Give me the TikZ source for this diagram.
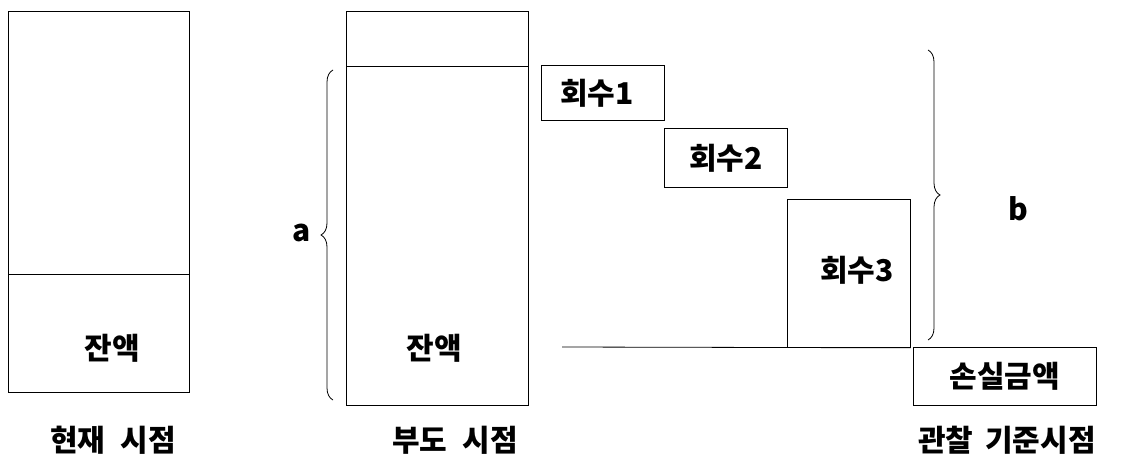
\documentclass[tikz,border=0pt]{standalone}
\usepackage{fontspec}
\setmainfont{Noto Sans CJK KR}
\usetikzlibrary{decorations.pathreplacing}
\begin{document}
\begin{tikzpicture}[x=1pt,y=-1pt,line width=0.8pt]
            \tikzstyle{label}=[font=\fontsize{30}{34}\selectfont\bfseries,inner sep=0pt]
            \tikzstyle{box}=[draw,rectangle,inner sep=0pt,anchor=north west,font=\fontsize{30}{34}\selectfont\bfseries]
            \tikzstyle{brace}=[decorate,decoration={brace,amplitude=12pt}]
            \useasboundingbox (0,0) rectangle (1121,474);

            % accounts at present and at default
            \node[box,minimum width=181pt,minimum height=381pt] (NOW) at (8,11) {};
            \draw (8,274) coordinate (NOW-cut) -- (189,274);
            \node[label] (NOW-bal) at (112,348) {잔액};
            \node[box,minimum width=182pt,minimum height=394pt] (DEF) at (346,11) {};
            \draw (346,66) coordinate (DEF-cut) -- (528,66);
            \node[label] (DEF-bal) at (434,348) {잔액};

            % recoveries
            \node[box,minimum width=123pt,minimum height=55pt] (REC-1) at (541,65) {};
            \node[label] at ([xshift=-6pt]REC-1.center) {회수1};
            \node[box,minimum width=123pt,minimum height=59pt] (REC-2) at (664,128) {};
            \node[label] at (REC-2.center) {회수2};
            \node[box,minimum width=123pt,minimum height=148pt] (REC-3) at (787,199) {};
            \node[label] at (857,270) {회수3};
            \coordinate (BASE) at (562,347);
            \draw (BASE) -- (REC-3.south east);
            \node[box,minimum width=183pt,minimum height=58pt] (LOSS) at (913,347) {};
            \node[label] at (LOSS.center) {손실금액};

            % braces
            \draw[brace] (333,400) -- (333,70) node[midway,left=22pt,label,yshift=2pt] (A) {a};
            \draw[brace] (928,50) -- (928,340) node[midway,right=80pt,label,yshift=-14pt] (B) {b};

            % time points
            \node[label] (T-now) at (113,440) {현재\hspace{0.5em}시점};
            \node[label] (T-def) at (455,440) {부도\hspace{0.5em}시점};
            \node[label] (T-obs) at (1007,440) {관찰\hspace{0.4em}기준시점};
\end{tikzpicture}
\end{document}
